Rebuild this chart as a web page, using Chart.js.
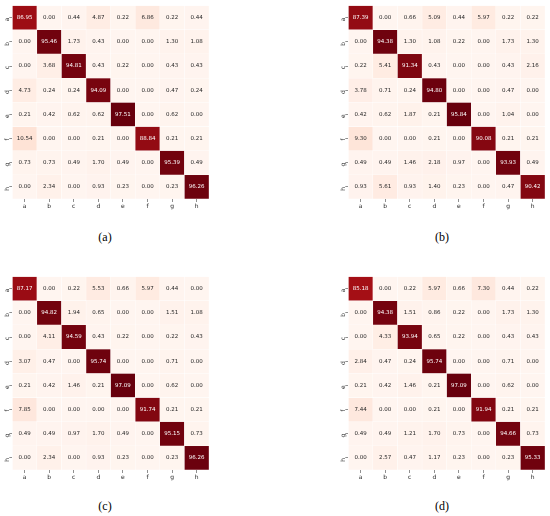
<!DOCTYPE html>
<html>
<head>
<meta charset="utf-8">
<script src="https://cdn.jsdelivr.net/npm/chart.js@4.4.0/dist/chart.umd.min.js"></script>
<style>
  html, body { margin: 0; padding: 0; background: #ffffff; }
  body { width: 550px; height: 516px; position: relative; overflow: hidden; }
  .panel { position: absolute; }
  .panel canvas { display: block; }
  .cap { position: absolute; font-family: "Liberation Serif", "DejaVu Serif", serif; font-size: 12px; color: #000; transform: translate(-50%, -50%); white-space: nowrap; }
</style>
</head>
<body>
<div class="panel" id="pa" style="left:0px;top:0px;"><canvas id="ca"></canvas></div>
<div class="panel" id="pb" style="left:336px;top:0px;"><canvas id="cb"></canvas></div>
<div class="panel" id="pc" style="left:0px;top:270.5px;"><canvas id="cc"></canvas></div>
<div class="panel" id="pd" style="left:336px;top:270.5px;"><canvas id="cd"></canvas></div>
<div class="cap" style="left:105px;top:237px;">(a)</div>
<div class="cap" style="left:442px;top:237px;">(b)</div>
<div class="cap" style="left:105px;top:506px;">(c)</div>
<div class="cap" style="left:442px;top:506px;">(d)</div>
<script>
// ---- data ----
const classLabels = ['a', 'b', 'c', 'd', 'e', 'f', 'g', 'h'];

const matrixA = [
  [86.95, 0.00, 0.44, 4.87, 0.22, 6.86, 0.22, 0.44],
  [0.00, 95.46, 1.73, 0.43, 0.00, 0.00, 1.30, 1.08],
  [0.00, 3.68, 94.81, 0.43, 0.22, 0.00, 0.43, 0.43],
  [4.73, 0.24, 0.24, 94.09, 0.00, 0.00, 0.47, 0.24],
  [0.21, 0.42, 0.62, 0.62, 97.51, 0.00, 0.62, 0.00],
  [10.54, 0.00, 0.00, 0.21, 0.00, 88.84, 0.21, 0.21],
  [0.73, 0.73, 0.49, 1.70, 0.49, 0.00, 95.39, 0.49],
  [0.00, 2.34, 0.00, 0.93, 0.23, 0.00, 0.23, 96.26]
];

const matrixB = [
  [87.39, 0.00, 0.66, 5.09, 0.44, 5.97, 0.22, 0.22],
  [0.00, 94.38, 1.30, 1.08, 0.22, 0.00, 1.73, 1.30],
  [0.22, 5.41, 91.34, 0.43, 0.00, 0.00, 0.43, 2.16],
  [3.78, 0.71, 0.24, 94.80, 0.00, 0.00, 0.47, 0.00],
  [0.42, 0.62, 1.87, 0.21, 95.84, 0.00, 1.04, 0.00],
  [9.30, 0.00, 0.00, 0.21, 0.00, 90.08, 0.21, 0.21],
  [0.49, 0.49, 1.46, 2.18, 0.97, 0.00, 93.93, 0.49],
  [0.93, 5.61, 0.93, 1.40, 0.23, 0.00, 0.47, 90.42]
];

const matrixC = [
  [87.17, 0.00, 0.22, 5.53, 0.66, 5.97, 0.44, 0.00],
  [0.00, 94.82, 1.94, 0.65, 0.00, 0.00, 1.51, 1.08],
  [0.00, 4.11, 94.59, 0.43, 0.22, 0.00, 0.22, 0.43],
  [3.07, 0.47, 0.00, 95.74, 0.00, 0.00, 0.71, 0.00],
  [0.21, 0.42, 1.46, 0.21, 97.09, 0.00, 0.62, 0.00],
  [7.85, 0.00, 0.00, 0.00, 0.00, 91.74, 0.21, 0.21],
  [0.49, 0.49, 0.97, 1.70, 0.49, 0.00, 95.15, 0.73],
  [0.00, 2.34, 0.00, 0.93, 0.23, 0.00, 0.23, 96.26]
];

const matrixD = [
  [85.18, 0.00, 0.22, 5.97, 0.66, 7.30, 0.44, 0.22],
  [0.00, 94.38, 1.51, 0.86, 0.22, 0.00, 1.73, 1.30],
  [0.00, 4.33, 93.94, 0.65, 0.22, 0.00, 0.43, 0.43],
  [2.84, 0.47, 0.24, 95.74, 0.00, 0.00, 0.71, 0.00],
  [0.21, 0.42, 1.46, 0.21, 97.09, 0.00, 0.62, 0.00],
  [7.44, 0.00, 0.00, 0.21, 0.00, 91.94, 0.21, 0.21],
  [0.49, 0.49, 1.21, 1.70, 0.73, 0.00, 94.66, 0.73],
  [0.00, 2.57, 0.47, 1.17, 0.23, 0.00, 0.23, 95.33]
];

// ---- colour map (matplotlib "Reds") ----
const redsStops = ['#fff5f0', '#fee0d2', '#fcbba1', '#fc9272', '#fb6a4a', '#ef3b2c', '#cb181d', '#a50f15', '#67000d'];
function hexToRgb(h) { return [parseInt(h.slice(1, 3), 16), parseInt(h.slice(3, 5), 16), parseInt(h.slice(5, 7), 16)]; }
const redsRgb = redsStops.map(hexToRgb);
function redsRGB(t) {
  t = Math.max(0, Math.min(1, t));
  const p = t * (redsRgb.length - 1);
  const i = Math.min(Math.floor(p), redsRgb.length - 2);
  const f = p - i;
  return redsRgb[i].map((c, k) => Math.round(c + (redsRgb[i + 1][k] - c) * f));
}
function luminance(rgb) {
  const c = rgb.map(v => { v /= 255; return v <= 0.03928 ? v / 12.92 : Math.pow((v + 0.055) / 1.055, 2.4); });
  return 0.2126 * c[0] + 0.7152 * c[1] + 0.0722 * c[2];
}

const cellTextPlugin = {
  id: 'cellText',
  afterDatasetsDraw(chart) {
    const ctx = chart.ctx;
    const m = chart.options.plugins.cellText.matrix;
    const vmin = Math.min(...m.flat()), vmax = Math.max(...m.flat());
    ctx.save();
    ctx.font = '5.5px "DejaVu Sans", sans-serif';
    ctx.textAlign = 'center';
    ctx.textBaseline = 'middle';
    chart.data.datasets.forEach((ds, r) => {
      const meta = chart.getDatasetMeta(r);
      meta.data.forEach((el, c) => {
        const v = m[r][c];
        const rgb = redsRGB((v - vmin) / (vmax - vmin));
        ctx.fillStyle = luminance(rgb) > 0.408 ? '#262626' : '#ffffff';
        ctx.fillText(v.toFixed(2), el.x, (el.y + el.base) / 2);
      });
    });
    ctx.restore();
  }
};

function makeHeatmap(canvasId, matrix) {
  const vmin = Math.min(...matrix.flat()), vmax = Math.max(...matrix.flat());
  const canvas = document.getElementById(canvasId);
  canvas.width = 220; canvas.height = 212;
  canvas.style.width = '220px'; canvas.style.height = '212px';
  const datasets = matrix.map((row, r) => ({
    label: classLabels[r],
    data: row.map(() => [r, r + 1]),
    backgroundColor: row.map(v => { const c = redsRGB((v - vmin) / (vmax - vmin)); return 'rgb(' + c.join(',') + ')'; }),
    borderColor: 'rgba(255,255,255,0.35)',
    borderWidth: 0.5,
    borderSkipped: false,
    barPercentage: 1.0,
    categoryPercentage: 1.0,
    grouped: false
  }));
  return new Chart(canvas, {
    type: 'bar',
    data: { labels: classLabels, datasets },
    plugins: [cellTextPlugin],
    options: {
      responsive: false,
      animation: false,
      devicePixelRatio: 1,
      layout: { padding: { top: 3.5, right: 11, left: 0, bottom: 0 } },
      plugins: {
        legend: { display: false },
        tooltip: { enabled: false },
        cellText: { matrix }
      },
      scales: {
        x: {
          type: 'category',
          offset: true,
          grid: { display: true, offset: false, drawOnChartArea: false, drawTicks: true, tickLength: 3, color: '#444', lineWidth: 0.6 },
          border: { display: false },
          ticks: { color: '#262626', font: { family: 'DejaVu Sans', size: 6 }, padding: 1, maxRotation: 0, minRotation: 0 },
          afterFit(scale) { scale.height = 13; }
        },
        y: {
          type: 'linear',
          min: 0, max: 8, reverse: true,
          grid: { display: true, drawOnChartArea: false, drawTicks: true, tickLength: 3, color: '#444', lineWidth: 0.6 },
          border: { display: false },
          afterBuildTicks(scale) { scale.ticks = classLabels.map((l, i) => ({ value: i + 0.5 })); },
          ticks: {
            color: '#262626', font: { family: 'DejaVu Sans', size: 6 }, padding: 2,
            minRotation: 90, maxRotation: 90,
            callback: (v) => classLabels[Math.floor(v)]
          },
          afterFit(scale) { scale.width = 12.3; }
        }
      }
    }
  });
}

makeHeatmap('ca', matrixA);
makeHeatmap('cb', matrixB);
makeHeatmap('cc', matrixC);
makeHeatmap('cd', matrixD);
</script>
</body>
</html>
